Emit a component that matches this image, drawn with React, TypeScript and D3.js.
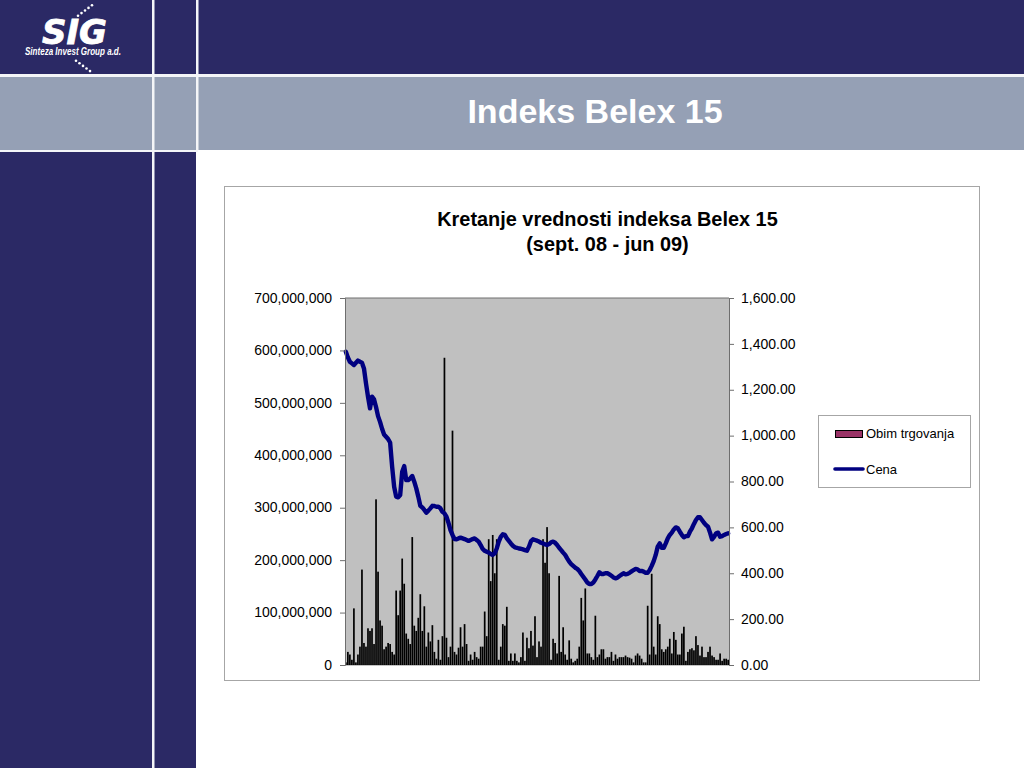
import React, { useEffect, useRef } from 'react';
import * as d3 from 'd3';

// trading volume per day, in millions
const volume = [
  5, 25, 20, 10, 108, 5, 20, 35, 182, 42, 35, 70, 65, 70, 40, 316, 178, 85, 75, 30,
  35, 42, 40, 25, 20, 142, 95, 142, 203, 155, 60, 50, 40, 244, 75, 65, 90, 135, 65, 112,
  35, 62, 45, 76, 25, 12, 48, 10, 55, 586, 52, 15, 35, 447, 25, 20, 33, 72, 35, 78,
  40, 8, 20, 10, 25, 15, 12, 35, 35, 102, 55, 240, 160, 248, 175, 240, 10, 35, 78, 75,
  111, 8, 22, 8, 22, 8, 5, 15, 62, 8, 52, 32, 65, 37, 93, 15, 45, 35, 240, 195,
  263, 175, 10, 50, 42, 22, 170, 25, 72, 20, 10, 47, 12, 5, 8, 12, 35, 128, 85, 146,
  22, 22, 15, 10, 94, 15, 20, 30, 30, 12, 15, 15, 25, 8, 20, 12, 15, 15, 15, 18,
  15, 14, 12, 5, 18, 22, 18, 12, 5, 5, 113, 20, 174, 35, 20, 93, 78, 30, 25, 30,
  35, 50, 22, 63, 48, 20, 20, 60, 73, 8, 25, 30, 32, 28, 55, 38, 18, 35, 15, 15,
  25, 35, 18, 15, 10, 10, 22, 8, 12, 12, 10,
];

// index value per day
const price = [
  1366, 1341, 1322, 1315, 1308, 1318, 1327, 1322, 1318, 1293, 1228, 1170, 1119, 1170, 1158, 1125, 1085, 1060, 1030, 1005,
  995, 985, 970, 865, 777, 734, 731, 741, 843, 867, 806, 806, 814, 824, 799, 770, 734, 694, 687, 676,
  664, 673, 683, 694, 693, 690, 690, 683, 668, 661, 647, 620, 588, 567, 549, 548, 552, 555, 552, 549,
  545, 541, 545, 549, 552, 545, 538, 523, 506, 498, 494, 490, 484, 480, 487, 508, 538, 559, 570, 567,
  552, 541, 530, 520, 513, 511, 508, 507, 504, 501, 498, 516, 540, 548, 545, 542, 538, 533, 530, 526,
  523, 527, 535, 538, 533, 523, 511, 501, 490, 480, 465, 451, 440, 432, 424, 419, 410, 397, 385, 373,
  360, 353, 353, 360, 373, 388, 404, 397, 397, 400, 400, 395, 389, 382, 378, 381, 388, 394, 400, 395,
  397, 402, 408, 414, 419, 417, 410, 410, 407, 402, 402, 414, 432, 453, 480, 516, 530, 511, 511, 530,
  552, 567, 577, 591, 600, 596, 581, 567, 557, 562, 562, 581, 596, 615, 632, 644, 644, 632, 620, 610,
  603, 577, 548, 559, 574, 577, 559, 562, 567, 571, 574,
];

const leftTicks = [0, 100, 200, 300, 400, 500, 600, 700];
const rightTicks = [0, 200, 400, 600, 800, 1000, 1200, 1400, 1600];
const legendLabels = ['Obim trgovanja', 'Cena'];

const NAVY = '#2b2965';
const BAND = '#95a0b5';
const FONT = '"Liberation Sans", Arial, sans-serif';

const plot = { left: 345, right: 729, top: 298, bottom: 665 };

const App: React.FC = () => {
  const leftRef = useRef<SVGGElement>(null);
  const rightRef = useRef<SVGGElement>(null);

  const days = volume.map((_, i) => i);
  const x = d3.scaleBand<number>().domain(days).range([plot.left, plot.right]).paddingInner(0.15);
  const yVol = d3.scaleLinear().domain([0, 700]).range([plot.bottom, plot.top]);
  const yPrice = d3.scaleLinear().domain([0, 1600]).range([plot.bottom, plot.top]);

  const line = d3.line<number>()
    .x((_, i) => (x(i) as number) + x.bandwidth() / 2)
    .y(d => yPrice(d));

  useEffect(() => {
    const left = d3.select(leftRef.current as SVGGElement);
    left.call(
      d3.axisLeft(yVol)
        .tickValues(leftTicks)
        .tickSize(5)
        .tickPadding(8)
        .tickFormat(d => d3.format(',')(+d * 1000000))
    );
    const right = d3.select(rightRef.current as SVGGElement);
    right.call(
      d3.axisRight(yPrice)
        .tickValues(rightTicks)
        .tickSize(5)
        .tickPadding(7)
        .tickFormat(d => d3.format(',.2f')(+d))
    );
    [left, right].forEach(g => {
      g.attr('font-family', FONT).attr('font-size', 14);
      g.selectAll('path').attr('stroke', '#6e6e6e');
      g.selectAll('line').attr('stroke', '#6e6e6e');
      g.selectAll('text').attr('fill', '#000').attr('dy', '0.3em');
    });
  }, []);

  return (
    <svg width={1024} height={768} style={{ position: 'absolute', left: 0, top: 0, display: 'block' }}>
      <rect width={1024} height={768} fill="#fff" />

      {/* slide background */}
      <rect x={0} y={0} width={1024} height={75} fill={NAVY} />
      <rect x={0} y={77} width={1024} height={73} fill={BAND} />
      <rect x={0} y={152} width={196} height={616} fill={NAVY} />
      <rect x={0} y={74} width={1024} height={3} fill="#f4f5f8" />
      <rect x={0} y={150} width={198} height={2} fill="#f4f5f8" />
      <rect x={152} y={0} width={2.5} height={768} fill="#f4f5f8" />
      <rect x={196} y={0} width={2.5} height={150} fill="#f4f5f8" />

      {/* logo */}
      <g fill="#fff">
        <text x={42} y={44} fontSize={33} fontWeight={700} fontStyle="italic" textLength={65} lengthAdjust="spacingAndGlyphs" fontFamily='"DejaVu Sans", sans-serif' stroke="#fff" strokeWidth={0.8}>SIG</text>
        <text x={25} y={55} fontSize={10} fontWeight={700} fontStyle="italic" textLength={96} lengthAdjust="spacingAndGlyphs" fontFamily='"Liberation Sans Narrow", "Liberation Sans", sans-serif'>Sinteza Invest Group a.d.</text>
        {[0, 1, 2, 3, 4].map(i => (
          <circle key={'a' + i} cx={78 + i * 3.5} cy={15.7 - i * 2.6} r={1.3} />
        ))}
        {[0, 1, 2, 3, 4].map(i => (
          <circle key={'b' + i} cx={76 + i * 3.5} cy={60.7 + i * 2.6} r={1.3} />
        ))}
      </g>

      <text x={595} y={123} textAnchor="middle" fill="#fff" fontFamily={FONT} fontWeight={700} fontSize={34}>Indeks Belex 15</text>

      {/* chart frame */}
      <rect x={224.5} y={186.5} width={755} height={494} fill="#fff" stroke="#a6a6a6" />
      <text textAnchor="middle" fontFamily={FONT} fontWeight={700} fontSize={19.9} fill="#000">
        <tspan x={607.5} y={225.5}>Kretanje vrednosti indeksa Belex 15</tspan>
        <tspan x={607.5} y={250.5}>(sept. 08 - jun 09)</tspan>
      </text>

      <rect x={plot.left} y={plot.top} width={plot.right - plot.left} height={plot.bottom - plot.top} fill="#c0c0c0" />
      <line x1={plot.left} x2={plot.right} y1={plot.top} y2={plot.top} stroke="#6e6e6e" />
      <line x1={plot.left} x2={plot.right} y1={plot.bottom} y2={plot.bottom} stroke="#8a8a8a" />

      <g fill="#000">
        {volume.map((v, i) => (
          <rect key={i} x={x(i)} y={yVol(v)} width={x.bandwidth()} height={plot.bottom - yVol(v)} />
        ))}
      </g>
      <path d={line(price) || ''} fill="none" stroke="#000080" strokeWidth={4.4} strokeLinejoin="round" strokeLinecap="round" />

      <g ref={leftRef} transform={`translate(${plot.left},0)`} />
      <g ref={rightRef} transform={`translate(${plot.right},0)`} />

      {/* legend */}
      <rect x={818.5} y={415.5} width={152} height={72} fill="#fff" stroke="#a6a6a6" />
      <rect x={835.5} y={430.5} width={27} height={7} fill="#993366" stroke="#000" />
      <line x1={835} x2={863} y1={469} y2={469} stroke="#000080" strokeWidth={3.6} strokeLinecap="round" />
      <g fontFamily={FONT} fontSize={13} fill="#000">
        <text x={866} y={438}>{legendLabels[0]}</text>
        <text x={866} y={474}>{legendLabels[1]}</text>
      </g>
    </svg>
  );
};

export default App;
